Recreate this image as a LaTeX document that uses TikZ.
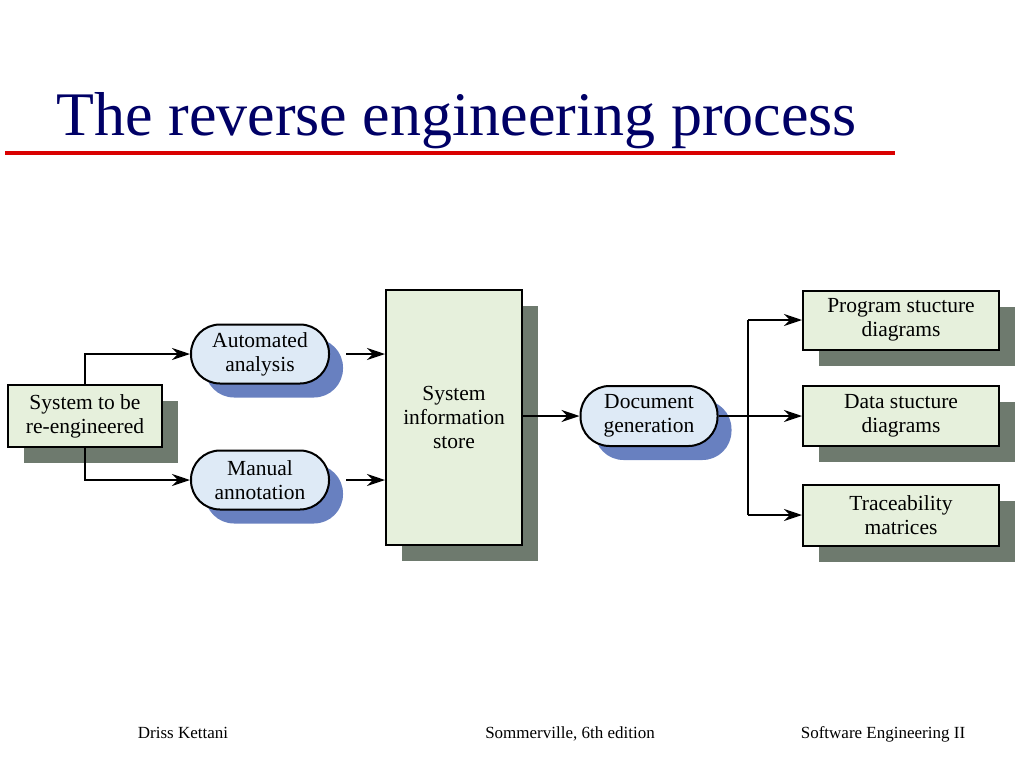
\documentclass[tikz,border=0pt]{standalone}
\usepackage{fontspec}
\setmainfont{Liberation Serif}
\usetikzlibrary{shadows,arrows.meta}
\definecolor{navy}{RGB}{0,0,102}
\definecolor{boxg}{RGB}{230,240,220}
\definecolor{shg}{RGB}{110,122,110}
\definecolor{pillb}{RGB}{222,234,246}
\definecolor{shb}{RGB}{104,128,192}
\begin{document}
\begin{tikzpicture}[x=1pt,y=-1pt,
  box/.style={draw=black,line width=2pt,fill=boxg,align=center,inner sep=0pt,
    font=\fontsize{21.5}{24}\selectfont,
    drop shadow={shadow xshift=16pt,shadow yshift=-16pt,fill=shg,opacity=1}},
  pill/.style={draw=black,line width=2pt,fill=pillb,align=center,inner sep=0pt,
    rounded corners=29pt,font=\fontsize{21.5}{24}\selectfont,
    drop shadow={shadow xshift=14pt,shadow yshift=-14pt,fill=shb,opacity=1}},
  arr/.style={line width=2pt,-{Stealth[length=18pt,width=12pt]}},
  ln/.style={line width=2pt},
  foot/.style={font=\fontsize{17}{20}\selectfont,anchor=base}]
\useasboundingbox (0,0) rectangle (1024,768);
\node[anchor=base west,text=navy,font=\fontsize{62}{66}\selectfont] (title) at (53,135) {The reverse engineering process};
\draw[red!85!black,line width=4pt] (5,153) -- (895,153);
\node[box,minimum width=154pt,minimum height=62pt] (sys) at (85,416) {System to be\\re-engineered};
\node[pill,minimum width=138pt,minimum height=59pt] (auto) at (260,354) {Automated\\analysis};
\node[pill,minimum width=138pt,minimum height=59pt] (man) at (260,480) {Manual\\annotation};
\node[box,minimum width=136pt,minimum height=255pt] (store) at (454,417) {System\\information\\store};
\node[pill,minimum width=137pt,minimum height=60pt] (doc) at (649,416) {Document\\generation};
\node[box,minimum width=196pt,minimum height=59pt] (p1) at (901,320) {Program stucture\\diagrams};
\node[box,minimum width=196pt,minimum height=60pt] (p2) at (901,416) {Data stucture\\diagrams};
\node[box,minimum width=196pt,minimum height=61pt] (p3) at (901,515) {Traceability\\matrices};
\coordinate (br) at (748,416);
\draw[arr] (sys.north) |- (auto.west);
\draw[arr] (sys.south) |- (man.west);
\draw[arr] ([xshift=16pt]auto.east) -- (store.west |- auto.east);
\draw[arr] ([xshift=16pt]man.east) -- (store.west |- man.east);
\draw[arr] (store.east |- doc.west) -- (doc.west);
\draw[arr] (doc.east) -- (p2.west);
\draw[ln] (br |- p1.west) -- (br |- p3.west);
\draw[arr] (br |- p1.west) -- (p1.west);
\draw[arr] (br |- p3.west) -- (p3.west);
\node[foot] (f1) at (183,738) {Driss Kettani};
\node[foot] (f2) at (570,738) {Sommerville, 6th edition};
\node[foot] (f3) at (883,738) {Software Engineering II};
\end{tikzpicture}
\end{document}
